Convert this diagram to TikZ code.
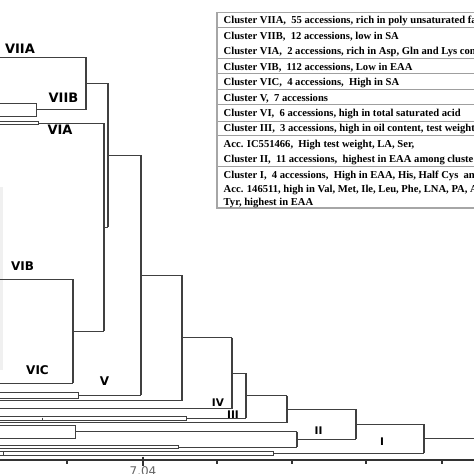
\documentclass[tikz,border=0pt]{standalone}
\usepackage{fontspec}
\setmainfont{Liberation Serif}
\newfontfamily\lblfont{DejaVu Sans}
\begin{document}
\begin{tikzpicture}[x=1pt,y=-1pt,
  hl/.style={draw=black!75, line width=1pt},
  vl/.style={draw=black!75, line width=1.8pt},
  lb/.style={draw=black!75, line width=0.85pt},
  axisline/.style={draw=black!80, line width=1.1pt},
  tabrule/.style={draw=gray!75, double=white, double distance=0.5pt, line width=0.65pt},
  tabframe/.style={draw=gray!70, line width=1.3pt},
  clabel/.style={font=\lblfont\bfseries\fontsize{13}{13}\selectfont, inner sep=0pt},
  mlabel/.style={font=\lblfont\bfseries\fontsize{12}{12}\selectfont, inner sep=0pt},
  slabel/.style={font=\lblfont\bfseries\fontsize{10.5}{10.5}\selectfont, inner sep=0pt},
  rowtext/.style={font=\bfseries\fontsize{10.6}{10.6}\selectfont, anchor=base west, inner sep=0pt},
  axlabel/.style={font=\lblfont\fontsize{12}{12}\selectfont, text=black!60, anchor=north, inner sep=0pt}]
\useasboundingbox (0,0) rectangle (474,474);
\fill[gray!12] (0,187) rectangle (2.5,370);
% ---- dendrogram ----
\draw[hl] (0,57) -- (86,57);
\draw[lb] (0,103) -- (36,103) -- (36,116) -- (0,116);
\draw[hl] (36,109.5) -- (86,109.5);
\draw[vl] (86,57) -- (86,109.5);
\draw[hl] (86,83) -- (108,83);
\draw[lb] (0,121.8) -- (38,121.8) -- (38,124.2) -- (0,124.2);
\draw[hl] (38,123) -- (104,123);
\draw[hl] (0,279) -- (73,279);
\draw[hl] (0,383) -- (73,383);
\draw[vl] (73,279) -- (73,383);
\draw[hl] (73,331) -- (104,331);
\draw[vl] (104,123) -- (104,331);
\draw[hl] (104,227) -- (108,227);
\draw[vl] (108,83) -- (108,227);
\draw[hl] (108,155) -- (141,155);
\draw[lb] (0,392) -- (78,392) -- (78,398) -- (0,398);
\draw[hl] (78,395) -- (141,395);
\draw[vl] (141,155) -- (141,395);
\draw[hl] (141,275) -- (182,275);
\draw[hl] (0,400.5) -- (182,400.5);
\draw[vl] (182,275) -- (182,400.5);
\draw[hl] (182,337.5) -- (232,337.5);
\draw[hl] (0,408.5) -- (232,408.5);
\draw[vl] (232,337.5) -- (232,408.5);
\draw[hl] (232,373) -- (246,373);
\draw[lb] (0,416) -- (186,416) -- (186,420) -- (0,420);
\draw[lb] (42,417.5) -- (42,420);
\draw[hl] (186,418) -- (246,418);
\draw[vl] (246,373) -- (246,418);
\draw[hl] (246,395.5) -- (287,395.5);
\draw[hl] (0,422.5) -- (287,422.5);
\draw[vl] (287,395.5) -- (287,422.5);
\draw[hl] (287,409) -- (356,409);
\draw[lb] (0,425.5) -- (75,425.5) -- (75,438) -- (0,438);
\draw[hl] (75,431.5) -- (297,431.5);
\draw[lb] (0,445.5) -- (178,445.5) -- (178,448) -- (0,448);
\draw[hl] (178,447) -- (297,447);
\draw[vl] (297,431.5) -- (297,447);
\draw[hl] (297,439) -- (356,439);
\draw[vl] (356,409) -- (356,439);
\draw[hl] (356,424) -- (424,424);
\draw[lb] (0,451) -- (273,451) -- (273,455) -- (0,455);
\draw[lb] (3,451) -- (3,455);
\draw[hl] (273,453) -- (424,453);
\draw[vl] (424,424) -- (424,453);
\draw[hl] (424,438.5) -- (474,438.5);
% ---- axis ----
\draw[axisline] (0,460) -- (474,460);
\foreach \t in {67,217,292,366,442} \draw[axisline] (\t,460) -- (\t,463.5);
\draw[axisline] (143,456.5) -- (143,466);
\node[axlabel] (ax) at (143,466.5) {7.04};
% ---- cluster labels ----
\node[clabel] (lVIIA) at (20,49) {VIIA};
\node[clabel] (lVIIB) at (63.5,98) {VIIB};
\node[clabel] (lVIA) at (60,130) {VIA};
\node[mlabel] (lVIB) at (22.5,266) {VIB};
\node[mlabel] (lVIC) at (37.5,370) {VIC};
\node[mlabel] (lV) at (104.5,381) {V};
\node[slabel] (lIV) at (218,403) {IV};
\node[slabel] (lIII) at (233,415) {III};
\node[slabel] (lII) at (318.5,431) {II};
\node[slabel] (lI) at (382,442) {I};
% ---- legend table ----
\foreach \k in {1,...,11} \draw[tabrule] (217,12.5+15.45*\k) -- (480,12.5+15.45*\k);
\draw[tabframe] (480,12.5) -- (217,12.5) -- (217,208) -- (480,208);
\node[rowtext] (r1) at (223.5,12.5+7.7+3.6) {Cluster VIIA,\ \ 55 accessions, rich in poly unsaturated fa};
\node[rowtext] (r2) at (223.5,12.5+15.45+7.7+3.6) {Cluster VIIB,\ \ 12 accessions, low in SA};
\node[rowtext] (r3) at (223.5,12.5+30.9+7.7+3.6) {Cluster VIA,\ \ 2 accessions, rich in Asp, Gln and Lys con};
\node[rowtext] (r4) at (223.5,12.5+46.35+7.7+3.6) {Cluster VIB,\ \ 112 accessions, Low in EAA};
\node[rowtext] (r5) at (223.5,12.5+61.8+7.7+3.6) {Cluster VIC,\ \ 4 accessions,\ \ High in SA};
\node[rowtext] (r6) at (223.5,12.5+77.25+7.7+3.6) {Cluster V,\ \ 7 accessions};
\node[rowtext] (r7) at (223.5,12.5+92.7+7.7+3.6) {Cluster VI,\ \ 6 accessions, high in total saturated acid};
\node[rowtext] (r8) at (223.5,12.5+108.15+7.7+3.6) {Cluster III,\ \ 3 accessions, high in oil content, test weight};
\node[rowtext] (r9) at (223.5,12.5+123.6+7.7+3.6) {Acc. IC551466,\ \ High test weight, LA, Ser,};
\node[rowtext] (r10) at (223.5,12.5+139.05+7.7+3.6) {Cluster II,\ \ 11 accessions,\ \ highest in EAA among cluste};
\node[rowtext] (r11) at (223.5,12.5+154.5+7.7+3.6) {Cluster I,\ \ 4 accessions,\ \ High in EAA, His, Half Cys\ \ an};
\node[rowtext] (r12a) at (223.5,192.5) {Acc. 146511, high in Val, Met, Ile, Leu, Phe, LNA, PA, A};
\node[rowtext] (r12b) at (223.5,205) {Tyr, highest in EAA};
\end{tikzpicture}
\end{document}
